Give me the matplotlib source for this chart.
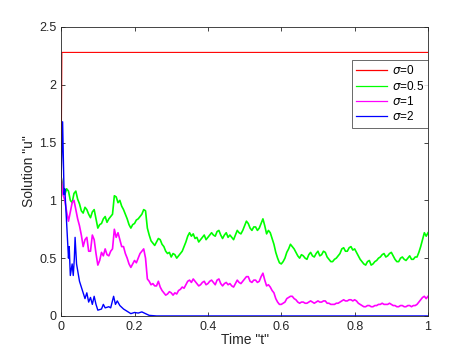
import numpy as np
import matplotlib
matplotlib.use("Agg")
import matplotlib.pyplot as plt
from matplotlib.ticker import FormatStrFormatter

plt.rcParams['font.family'] = ['Liberation Sans', 'DejaVu Sans']

# ---- data ----
t = np.round(np.arange(0, 1.0001, 0.005), 3)

red_t = [0.0, 0.002, 1.0]
red_u = [1.20, 2.28, 2.28]

green_u = [
    1.20, 1.12, 1.05, 1.10, 1.08, 1.00, 0.98, 1.06, 1.08, 1.01,
    0.97, 0.91, 0.89, 0.94, 0.92, 0.88, 0.85, 0.90, 0.92, 0.84,
    0.76, 0.79, 0.80, 0.84, 0.86, 0.81, 0.84, 0.86, 0.88, 1.04,
    1.03, 0.98, 1.00, 0.95, 0.92, 0.88, 0.84, 0.79, 0.76, 0.79,
    0.80, 0.83, 0.84, 0.86, 0.88, 0.92, 0.91, 0.76, 0.70, 0.65,
    0.63, 0.61, 0.64, 0.67, 0.66, 0.62, 0.60, 0.56, 0.54, 0.55,
    0.51, 0.54, 0.53, 0.50, 0.52, 0.54, 0.56, 0.60, 0.64, 0.69,
    0.72, 0.69, 0.71, 0.67, 0.68, 0.64, 0.66, 0.68, 0.70, 0.66,
    0.68, 0.70, 0.72, 0.70, 0.69, 0.73, 0.74, 0.70, 0.67, 0.70,
    0.72, 0.68, 0.70, 0.68, 0.66, 0.70, 0.74, 0.72, 0.71, 0.74,
    0.78, 0.82, 0.80, 0.76, 0.74, 0.77, 0.77, 0.74, 0.76, 0.80,
    0.84, 0.78, 0.71, 0.74, 0.72, 0.67, 0.62, 0.55, 0.50, 0.46,
    0.45, 0.47, 0.50, 0.55, 0.58, 0.62, 0.60, 0.58, 0.55, 0.52,
    0.50, 0.53, 0.52, 0.50, 0.49, 0.53, 0.55, 0.52, 0.51, 0.54,
    0.56, 0.52, 0.53, 0.56, 0.55, 0.51, 0.49, 0.47, 0.47, 0.49,
    0.50, 0.52, 0.54, 0.58, 0.59, 0.56, 0.56, 0.59, 0.60, 0.57,
    0.58, 0.55, 0.52, 0.49, 0.47, 0.45, 0.44, 0.47, 0.48, 0.44,
    0.45, 0.47, 0.48, 0.50, 0.51, 0.53, 0.54, 0.51, 0.52, 0.54,
    0.55, 0.52, 0.49, 0.47, 0.47, 0.50, 0.51, 0.49, 0.48, 0.50,
    0.52, 0.49, 0.49, 0.51, 0.51, 0.55, 0.60, 0.66, 0.72, 0.69,
    0.72]

magenta_u = [
    1.20, 1.05, 1.00, 0.90, 0.82, 0.90, 0.98, 1.00, 0.92, 0.84,
    0.78, 0.70, 0.60, 0.66, 0.68, 0.56, 0.56, 0.70, 0.66, 0.54,
    0.44, 0.48, 0.55, 0.52, 0.58, 0.53, 0.52, 0.56, 0.58, 0.75,
    0.68, 0.72, 0.66, 0.60, 0.60, 0.54, 0.50, 0.45, 0.42, 0.45,
    0.48, 0.46, 0.50, 0.54, 0.56, 0.58, 0.50, 0.32, 0.30, 0.27,
    0.28, 0.26, 0.26, 0.30, 0.25, 0.22, 0.20, 0.18, 0.19, 0.21,
    0.20, 0.18, 0.20, 0.19, 0.22, 0.23, 0.25, 0.24, 0.27, 0.30,
    0.31, 0.29, 0.32, 0.30, 0.28, 0.26, 0.27, 0.29, 0.30, 0.27,
    0.28, 0.30, 0.31, 0.29, 0.27, 0.31, 0.32, 0.28, 0.26, 0.28,
    0.29, 0.27, 0.28, 0.26, 0.25, 0.28, 0.31, 0.29, 0.28, 0.30,
    0.32, 0.34, 0.34, 0.30, 0.29, 0.31, 0.31, 0.29, 0.30, 0.34,
    0.37, 0.31, 0.26, 0.27, 0.25, 0.22, 0.20, 0.15, 0.12, 0.10,
    0.10, 0.11, 0.12, 0.15, 0.16, 0.17, 0.17, 0.15, 0.14, 0.12,
    0.11, 0.12, 0.12, 0.11, 0.11, 0.12, 0.13, 0.12, 0.11, 0.12,
    0.13, 0.12, 0.12, 0.13, 0.13, 0.11, 0.11, 0.10, 0.10, 0.10,
    0.11, 0.11, 0.12, 0.13, 0.14, 0.13, 0.13, 0.14, 0.14, 0.13,
    0.14, 0.13, 0.11, 0.10, 0.09, 0.08, 0.08, 0.09, 0.09, 0.08,
    0.08, 0.09, 0.09, 0.10, 0.10, 0.11, 0.10, 0.10, 0.10, 0.11,
    0.10, 0.09, 0.09, 0.08, 0.08, 0.09, 0.09, 0.08, 0.08, 0.09,
    0.09, 0.08, 0.09, 0.09, 0.10, 0.12, 0.14, 0.16, 0.17, 0.15,
    0.17]

blue_t = [0.0, 0.004, 0.008, 0.010, 0.015, 0.020, 0.022, 0.025, 0.030, 0.033,
          0.036, 0.038, 0.042, 0.050, 0.060, 0.065, 0.070, 0.075, 0.080, 0.085,
          0.090, 0.095, 0.100, 0.110, 0.115, 0.120, 0.130, 0.135, 0.143, 0.148,
          0.153, 0.160, 0.170, 0.180, 0.190, 0.200, 0.210, 0.220, 0.230, 0.240,
          0.260, 1.0]
blue_u = [1.20, 1.68, 1.05, 1.10, 0.80, 0.50, 0.60, 0.35, 0.45, 0.35,
          0.50, 0.68, 0.45, 0.30, 0.20, 0.15, 0.20, 0.12, 0.16, 0.10,
          0.17, 0.10, 0.05, 0.06, 0.10, 0.07, 0.08, 0.07, 0.17, 0.10,
          0.13, 0.09, 0.06, 0.04, 0.02, 0.03, 0.025, 0.035, 0.02, 0.005,
          0.0, 0.0]

labels = [r'$\sigma$=0', r'$\sigma$=0.5', r'$\sigma$=1', r'$\sigma$=2']

# ---- figure ----
fig = plt.figure(figsize=(4.74, 3.55), dpi=100)
ax = fig.add_axes([0.129, 0.110, 0.774, 0.814])

ax.plot(red_t, red_u, color=(1, 0, 0), lw=0.8, label=labels[0])
ax.plot(t, green_u, color=(0, 1, 0), lw=1.2, label=labels[1])
ax.plot(t, magenta_u, color=(1, 0, 1), lw=1.2, label=labels[2])
ax.plot(blue_t, blue_u, color=(0, 0, 1), lw=1.0, label=labels[3])

ax.set_xlim(0, 1)
ax.set_ylim(0, 2.5)
ax.set_xticks([0, 0.2, 0.4, 0.6, 0.8, 1])
ax.set_yticks([0, 0.5, 1, 1.5, 2, 2.5])
ax.xaxis.set_major_formatter(FormatStrFormatter('%g'))
ax.yaxis.set_major_formatter(FormatStrFormatter('%g'))
ax.tick_params(direction='in', top=True, right=True, length=3,
               labelsize=9, colors='#262626', width=0.6)
for s in ax.spines.values():
    s.set_color('#262626')
    s.set_linewidth(0.6)

ax.set_xlabel('Time "t"', fontsize=10, color='#262626', labelpad=0)
ax.set_ylabel('Solution "u"', fontsize=10, color='#262626', labelpad=2)

leg = ax.legend(loc='upper right', bbox_to_anchor=(1.0, 0.885), fontsize=8.5,
                frameon=True, fancybox=False, edgecolor='#262626',
                handlelength=2.6, borderpad=0.35, labelspacing=0.2,
                handletextpad=0.4, borderaxespad=0)
leg.get_frame().set_linewidth(0.6)
for line in leg.get_lines():
    line.set_linewidth(0.9)

fig.savefig('out.png', dpi=100)
